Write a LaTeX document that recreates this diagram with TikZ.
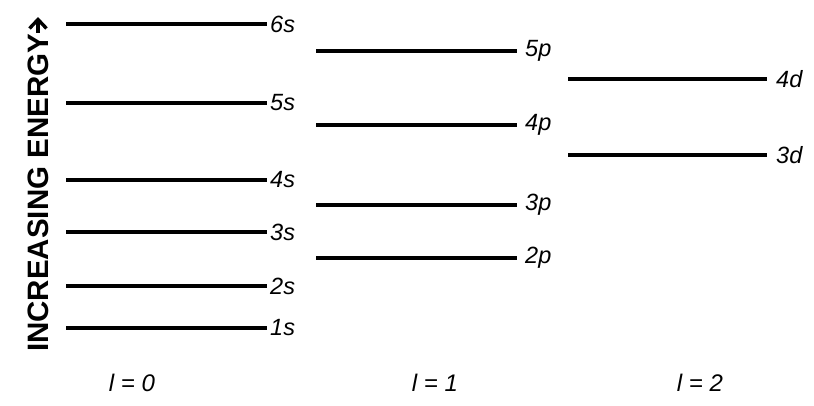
\documentclass[tikz,border=0pt]{standalone}
\usepackage{fontspec}
\setmainfont{Liberation Sans}
\usetikzlibrary{arrows.meta}
\begin{document}
\begin{tikzpicture}[x=1pt,y=-1pt,
  level/.style={line width=4.4pt,black},
  orb/.style={font=\fontsize{23.5}{25}\selectfont\itshape,inner sep=0pt,anchor=west},
  lval/.style={font=\fontsize{24}{26}\selectfont\itshape,inner sep=0pt},
  axis/.style={font=\fontsize{29.5}{31}\selectfont\bfseries,inner sep=0pt,rotate=90,anchor=west}]
\useasboundingbox (0,0) rectangle (814,405);
% s levels
\foreach \y/\t in {24/6s,103/5s,180/4s,232/3s,286/2s,328/1s}{
  \draw[level] (66,\y) -- (267,\y) node[orb,xshift=1pt] (s\t) {\t};
}
% p levels
\foreach \y/\t in {51/5p,125/4p,205/3p,258/2p}{
  \draw[level] (316,\y) -- (517,\y) node[orb,xshift=6pt] (p\t) {\t};
}
% d levels
\foreach \y/\t in {79/4d,155/3d}{
  \draw[level] (568,\y) -- (767,\y) node[orb,xshift=7pt] (d\t) {\t};
}
\node[lval] (l0) at (132,383) {l = 0};
\node[lval] (l1) at (435,383) {l = 1};
\node[lval] (l2) at (700,383) {l = 2};
\node[axis] (ax) at (38,352) {INCREASING ENERGY};
\coordinate (axtip) at (38,17);
\draw[line width=3.6pt,-{Straight Barb[length=9pt,width=17pt,line width=3.4pt]}] ([yshift=1pt]ax.east) -- (axtip);
\end{tikzpicture}
\end{document}
